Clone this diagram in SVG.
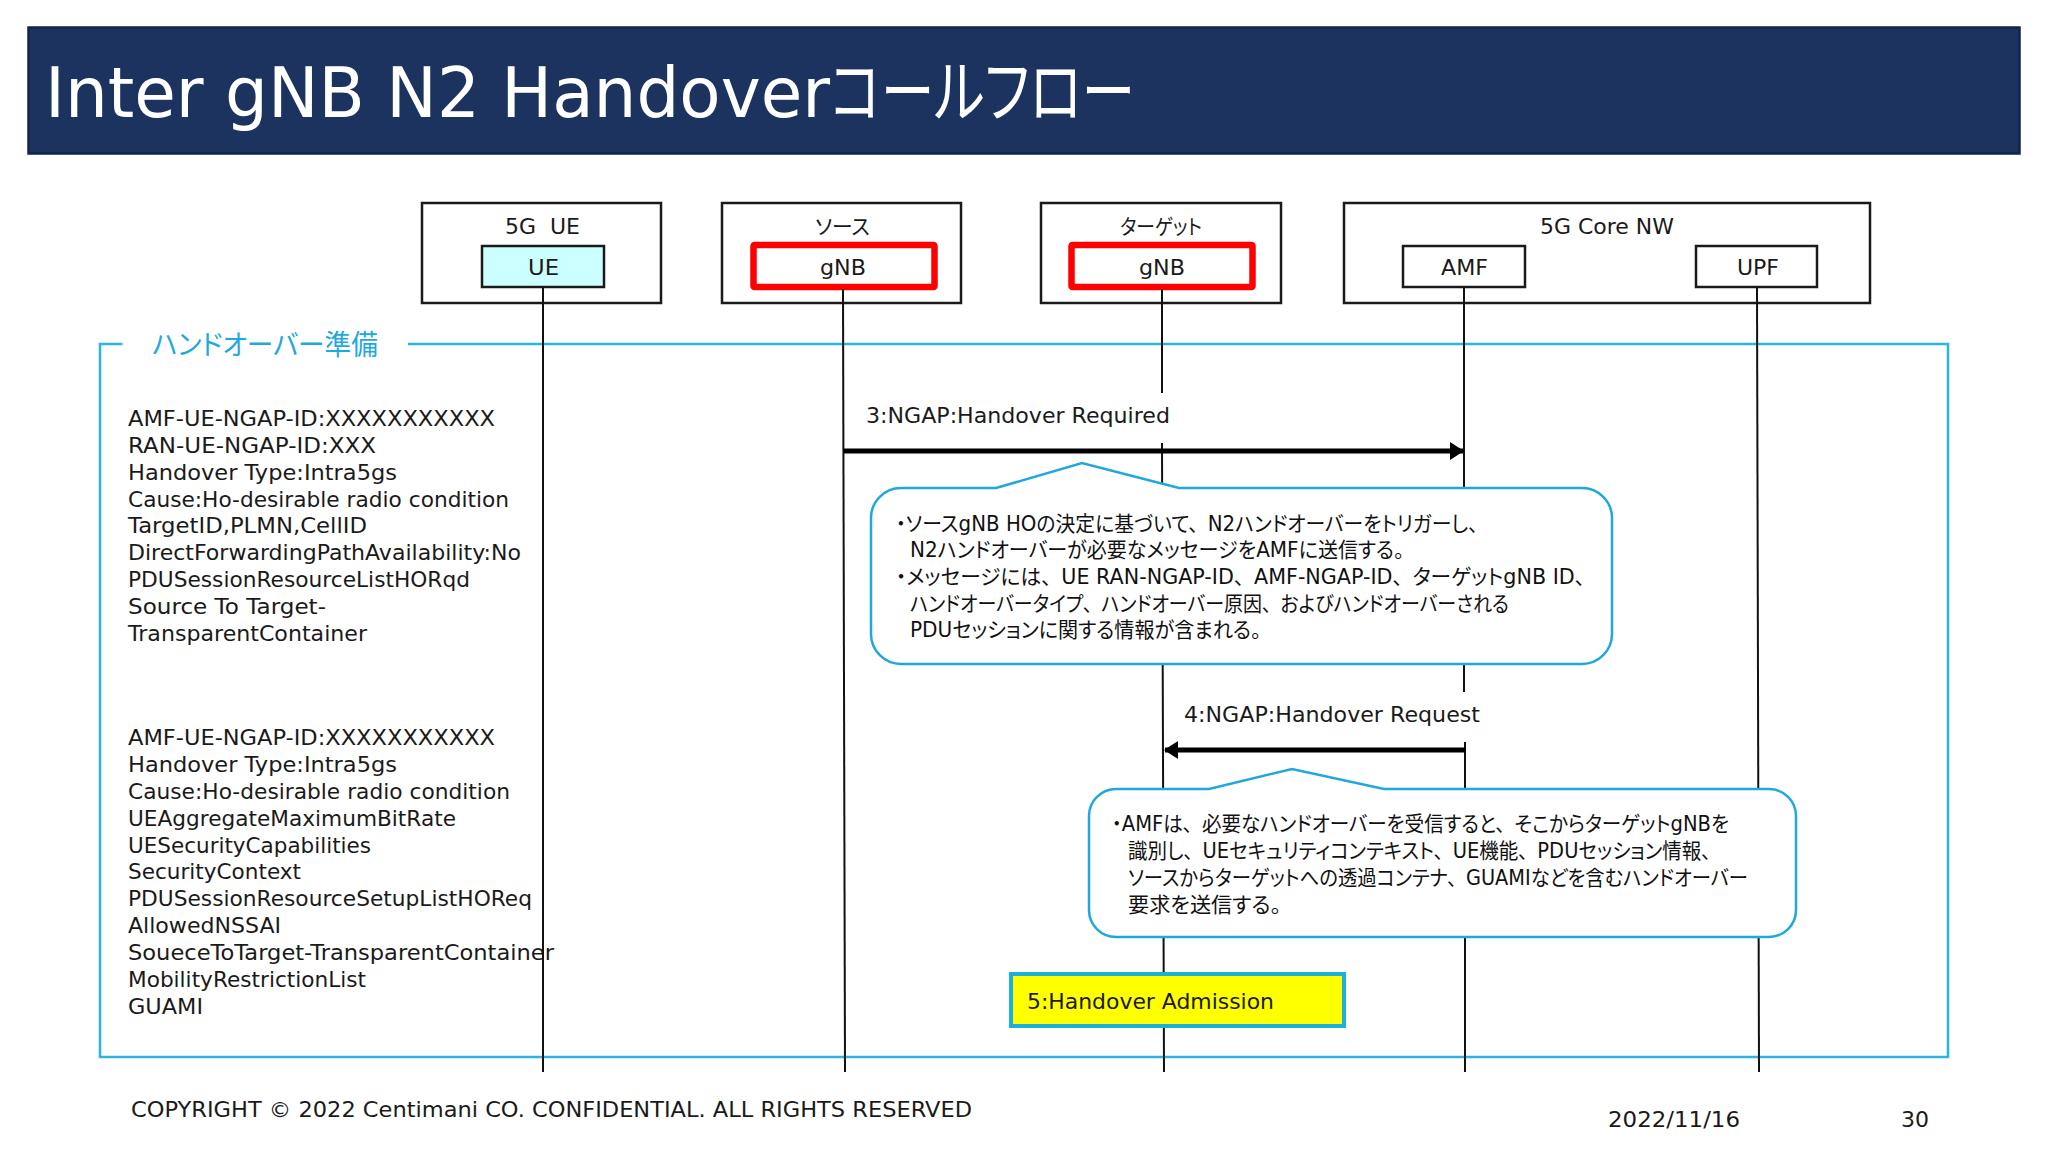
<svg xmlns="http://www.w3.org/2000/svg" width="2048" height="1152" viewBox="0 0 2048 1152">
<style>
text{font-family:"DejaVu Sans","Noto Sans CJK JP",sans-serif;fill:#1a1a1a;font-feature-settings:"palt";}
.t{font-size:21px;}
.h{font-size:21px;text-anchor:start;}
.c{font-size:21px;fill:#111;}
.box{fill:#fff;stroke:#1a1a1a;stroke-width:2.5;}
.red{fill:#fff;stroke:#f00;stroke-width:6.5;}
.life{stroke:#111;stroke-width:2;fill:none;}
.frame{stroke:#2cb5e0;stroke-width:2.5;fill:none;}
.call{fill:#fff;stroke:#1fa8dc;stroke-width:2.5;}
.arrow{stroke:#000;stroke-width:5;fill:none;}
</style>
<defs>
<marker id="ah" markerUnits="userSpaceOnUse" markerWidth="14" markerHeight="18" refX="13" refY="9" orient="auto"><path d="M0 0L14 9L0 18Z" fill="#000"/></marker>
</defs>
<rect width="2048" height="1152" fill="#fff"/>
<g id="title"><rect x="28.500" y="27.500" width="1991" height="126" fill="#1c3360" stroke="#12244a" stroke-width="2.500"/>
<text x="45" y="117" font-size="69" style="fill:#fff"><tspan textLength="785" lengthAdjust="spacingAndGlyphs">Inter gNB N2 Handover</tspan><tspan textLength="305" lengthAdjust="spacingAndGlyphs">コールフロー</tspan></text></g>

<g id="frame"><path class="frame" d="M122.500 344H100V1057H1948V344H408"/>
<text x="152" y="355" font-size="28" style="fill:#1fa9dc" textLength="226" lengthAdjust="spacingAndGlyphs">ハンドオーバー準備</text></g>

<g id="info-required">
<text class="t" x="128" y="426" textLength="367" lengthAdjust="spacingAndGlyphs">AMF-UE-NGAP-ID:XXXXXXXXXXX</text>
<text class="t" x="128" y="453" textLength="248" lengthAdjust="spacingAndGlyphs">RAN-UE-NGAP-ID:XXX</text>
<text class="t" x="128" y="479.500" textLength="269" lengthAdjust="spacingAndGlyphs">Handover Type:Intra5gs</text>
<text class="t" x="128" y="506.500" textLength="381" lengthAdjust="spacingAndGlyphs">Cause:Ho-desirable radio condition</text>
<text class="t" x="128" y="533" textLength="239" lengthAdjust="spacingAndGlyphs">TargetID,PLMN,CellID</text>
<text class="t" x="128" y="560" textLength="393" lengthAdjust="spacingAndGlyphs">DirectForwardingPathAvailability:No</text>
<text class="t" x="128" y="587" textLength="342" lengthAdjust="spacingAndGlyphs">PDUSessionResourceListHORqd</text>
<text class="t" x="128" y="614" textLength="198" lengthAdjust="spacingAndGlyphs">Source To Target-</text>
<text class="t" x="128" y="641" textLength="239" lengthAdjust="spacingAndGlyphs">TransparentContainer</text>
</g>
<g id="info-request">
<text class="t" x="128" y="745" textLength="367" lengthAdjust="spacingAndGlyphs">AMF-UE-NGAP-ID:XXXXXXXXXXX</text>
<text class="t" x="128" y="772" textLength="269" lengthAdjust="spacingAndGlyphs">Handover Type:Intra5gs</text>
<text class="t" x="128" y="799" textLength="382" lengthAdjust="spacingAndGlyphs">Cause:Ho-desirable radio condition</text>
<text class="t" x="128" y="826" textLength="328" lengthAdjust="spacingAndGlyphs">UEAggregateMaximumBitRate</text>
<text class="t" x="128" y="853" textLength="243" lengthAdjust="spacingAndGlyphs">UESecurityCapabilities</text>
<text class="t" x="128" y="879" textLength="173" lengthAdjust="spacingAndGlyphs">SecurityContext</text>
<text class="t" x="128" y="906" textLength="404" lengthAdjust="spacingAndGlyphs">PDUSessionResourceSetupListHOReq</text>
<text class="t" x="128" y="933" textLength="153" lengthAdjust="spacingAndGlyphs">AllowedNSSAI</text>
<text class="t" x="128" y="960" textLength="426" lengthAdjust="spacingAndGlyphs">SoueceToTarget-TransparentContainer</text>
<text class="t" x="128" y="987" textLength="238" lengthAdjust="spacingAndGlyphs">MobilityRestrictionList</text>
<text class="t" x="128" y="1014" textLength="75" lengthAdjust="spacingAndGlyphs">GUAMI</text>
</g>

<g id="node-5g-ue"><rect class="box" x="422" y="203" width="239" height="100"/>
<text class="h" x="505" y="234" textLength="75" lengthAdjust="spacingAndGlyphs" xml:space="preserve">5G  UE</text>
<rect x="482" y="246" width="122" height="41" fill="#ccffff" stroke="#1a1a1a" stroke-width="2.500"/>
<text class="h" x="528" y="275" textLength="31" lengthAdjust="spacingAndGlyphs">UE</text></g>

<g id="node-source"><rect class="box" x="722" y="203" width="239" height="100"/>
<text class="h" x="815" y="234" textLength="55" lengthAdjust="spacingAndGlyphs">ソース</text>
<rect class="red" x="753.500" y="245" width="181" height="42" rx="1"/>
<text class="h" x="820" y="275" textLength="46" lengthAdjust="spacingAndGlyphs">gNB</text></g>

<g id="node-target"><rect class="box" x="1041" y="203" width="240" height="100"/>
<text class="h" x="1120" y="234" textLength="82" lengthAdjust="spacingAndGlyphs">ターゲット</text>
<rect class="red" x="1071.500" y="245" width="181" height="42" rx="1"/>
<text class="h" x="1139" y="275" textLength="46" lengthAdjust="spacingAndGlyphs">gNB</text></g>

<g id="node-core"><rect class="box" x="1344" y="203" width="526" height="100"/>
<text class="h" x="1540" y="234" textLength="134" lengthAdjust="spacingAndGlyphs">5G Core NW</text>
<rect class="box" x="1403" y="246" width="122" height="41"/>
<text class="h" x="1441" y="275" textLength="47" lengthAdjust="spacingAndGlyphs">AMF</text>
<rect class="box" x="1696" y="246" width="121" height="41"/>
<text class="h" x="1737" y="275" textLength="42" lengthAdjust="spacingAndGlyphs">UPF</text></g>

<g id="connectors">
<path class="life" d="M543 287V1072"/>
<path class="life" d="M843 289L845 1072"/>
<path class="life" d="M1162 289V393M1162 443L1164 1072"/>
<path class="life" d="M1464 287V692M1465 742V1072"/>
<path class="life" d="M1757 287L1759 1072"/>
<path class="arrow" d="M843 451H1463" marker-end="url(#ah)"/>
<path class="arrow" d="M1466 750H1165" marker-end="url(#ah)"/>
</g>

<g id="label-3"><text x="866" y="423" font-size="22" textLength="304" lengthAdjust="spacingAndGlyphs">3:NGAP:Handover Required</text></g>
<g id="label-4"><text x="1184" y="722" font-size="22" textLength="296" lengthAdjust="spacingAndGlyphs">4:NGAP:Handover Request</text></g>

<g id="callout-1"><path class="call" d="M901 488H996L1082 463L1179 488H1582A30 30 0 0 1 1612 518V634A30 30 0 0 1 1582 664H901A30 30 0 0 1 871 634V518A30 30 0 0 1 901 488Z"/>
<text class="c" x="896" y="531" dx="0 0 0 0 0 0 0 0 0 0 0 0 0 0 0 0 0 0 0 10" textLength="582" lengthAdjust="spacingAndGlyphs">・ソースgNB HOの決定に基づいて、N2ハンドオーバーをトリガーし、</text>
<text class="c" x="910" y="557" textLength="494" lengthAdjust="spacingAndGlyphs">N2ハンドオーバーが必要なメッセージをAMFに送信する。</text>
<text class="c" x="896" y="584" dx="0 0 0 0 0 0 0 0 0 10 0 0 0 0 0 0 0 0 0 0 0 0 0 0 10 0 0 0 0 0 0 0 0 0 0 0 10" textLength="689" lengthAdjust="spacingAndGlyphs">・メッセージには、UE RAN-NGAP-ID、AMF-NGAP-ID、ターゲットgNB ID、</text>
<text class="c" x="910" y="611" dx="0 0 0 0 0 0 0 0 0 0 0 10 0 0 0 0 0 0 0 0 0 10" textLength="599" lengthAdjust="spacingAndGlyphs">ハンドオーバータイプ、ハンドオーバー原因、およびハンドオーバーされる</text>
<text class="c" x="910" y="637" textLength="351" lengthAdjust="spacingAndGlyphs">PDUセッションに関する情報が含まれる。</text></g>

<g id="callout-2"><path class="call" d="M1116 789H1209L1292 769L1384 789H1769A27 27 0 0 1 1796 816V910A27 27 0 0 1 1769 937H1116A27 27 0 0 1 1089 910V816A27 27 0 0 1 1116 789Z"/>
<text class="c" x="1112" y="831" dx="0 0 0 0 0 0 10 0 0 0 0 0 0 0 0 0 0 0 0 0 0 0 0 10" textLength="617" lengthAdjust="spacingAndGlyphs">・AMFは、必要なハンドオーバーを受信すると、そこからターゲットgNBを</text>
<text class="c" x="1128" y="858" dx="0 0 0 0 10 0 0 0 0 0 0 0 0 0 0 0 0 0 0 10 0 0 0 0 10" textLength="583" lengthAdjust="spacingAndGlyphs">識別し、UEセキュリティコンテキスト、UE機能、PDUセッション情報、</text>
<text class="c" x="1128" y="885" dx="0 0 0 0 0 0 0 0 0 0 0 0 0 0 0 0 0 0 0 10" textLength="620" lengthAdjust="spacingAndGlyphs">ソースからターゲットへの透過コンテナ、GUAMIなどを含むハンドオーバー</text>
<text class="c" x="1128" y="912" textLength="153" lengthAdjust="spacingAndGlyphs">要求を送信する。</text></g>

<g id="step-5"><rect x="1011" y="974" width="333" height="52" fill="#ff0" stroke="#19b0dc" stroke-width="4"/>
<text x="1027" y="1009" font-size="22" textLength="247" lengthAdjust="spacingAndGlyphs">5:Handover Admission</text></g>

<g id="footer">
<text x="131" y="1117" font-size="21" textLength="841" lengthAdjust="spacingAndGlyphs">COPYRIGHT © 2022 Centimani CO. CONFIDENTIAL. ALL RIGHTS RESERVED</text>
<text x="1608" y="1127" font-size="21" textLength="132" lengthAdjust="spacingAndGlyphs">2022/11/16</text>
<text x="1901" y="1127" font-size="21" textLength="28" lengthAdjust="spacingAndGlyphs">30</text>
</g>
</svg>
